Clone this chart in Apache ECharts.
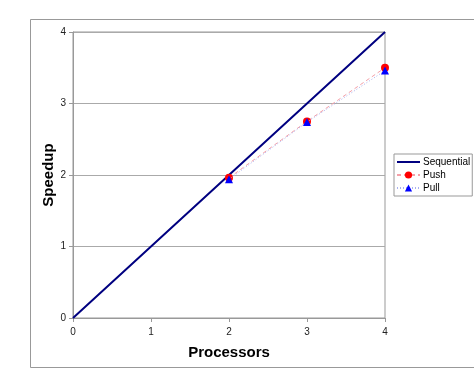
<!DOCTYPE html>
<html><head><meta charset="utf-8">
<script src="https://cdn.jsdelivr.net/npm/echarts@6/dist/echarts.min.js"></script>
<style>html,body{margin:0;padding:0;background:#fff}#c{width:474px;height:373px}</style>
</head><body><div id="c"></div>
<script>
const seqX = [0, 1, 2, 3, 4];
const seqY = [0, 1, 2, 3, 4];
const procX = [2, 3, 4];
const pushY = [1.96, 2.75, 3.50];
const pullY = [1.94, 2.74, 3.46];
const xTicks = [0, 1, 2, 3, 4];
const yTicks = [0, 1, 2, 3, 4];

const zip = (xs, ys) => xs.map((x, i) => [x, ys[i]]);
const font = 'Liberation Sans, Arial, sans-serif';
const chart = echarts.init(document.getElementById('c'), null, {renderer: 'canvas'});
chart.setOption({
  animation: false,
  backgroundColor: '#fff',
  graphic: [{type: 'rect', shape: {x: 30.5, y: 19.5, width: 460, height: 348}, style: {fill: 'none', stroke: '#999', lineWidth: 1}, z: -1}],
  grid: {left: 73, top: 32, right: 89, bottom: 55, show: true, borderColor: '#999', borderWidth: 1},
  xAxis: {
    type: 'value', min: 0, max: 4, interval: 1,
    name: 'Processors', nameLocation: 'middle', nameGap: 27, nameMoveOverlap: false,
    nameTextStyle: {fontFamily: font, fontSize: 15, fontWeight: 'bold', color: '#000'},
    axisLine: {lineStyle: {color: '#999'}},
    axisTick: {show: true, length: 4, lineStyle: {color: '#999'}},
    axisLabel: {fontFamily: font, fontSize: 10, color: '#222', margin: 9, formatter: v => xTicks.includes(v) ? String(v) : ''},
    splitLine: {show: false}
  },
  yAxis: {
    type: 'value', min: 0, max: 4, interval: 1,
    name: 'Speedup', nameLocation: 'middle', nameGap: 17, nameMoveOverlap: false,
    nameTextStyle: {fontFamily: font, fontSize: 15, fontWeight: 'bold', color: '#000'},
    axisLine: {show: true, lineStyle: {color: '#999'}},
    axisTick: {show: true, length: 4, lineStyle: {color: '#999'}},
    axisLabel: {fontFamily: font, fontSize: 10, color: '#222', margin: 7, formatter: v => yTicks.includes(v) ? String(v) : ''},
    splitLine: {show: true, lineStyle: {color: '#aaa', width: 1}}
  },
  legend: {
    orient: 'vertical', left: 394, top: 154,
    backgroundColor: '#fff', borderColor: '#999', borderWidth: 1,
    padding: [3, 2, 3, 2], itemGap: 3, itemWidth: 23, itemHeight: 9,
    textStyle: {fontFamily: font, fontSize: 10, color: '#000', padding: [0, 0, 0, -2]},
    data: [{name: 'Sequential', itemStyle: {opacity: 0}}, 'Push', 'Pull']
  },
  series: [
    {name: 'Sequential', type: 'line', data: zip(seqX, seqY), symbol: 'none',
     lineStyle: {color: '#000080', width: 2}, itemStyle: {color: '#000080'}, z: 2},
    {name: 'Push', type: 'line', data: zip(procX, pushY), symbol: 'circle', symbolSize: 8,
     lineStyle: {color: '#f4a0a8', width: 1, type: [4, 3]}, itemStyle: {color: '#ff0000'}, z: 3},
    {name: 'Pull', type: 'line', data: zip(procX, pullY), symbol: 'triangle', symbolSize: 8,
     lineStyle: {color: '#a8b0f0', width: 1, type: [1, 2]}, itemStyle: {color: '#0000ff'}, z: 4}
  ]
});
</script></body></html>
